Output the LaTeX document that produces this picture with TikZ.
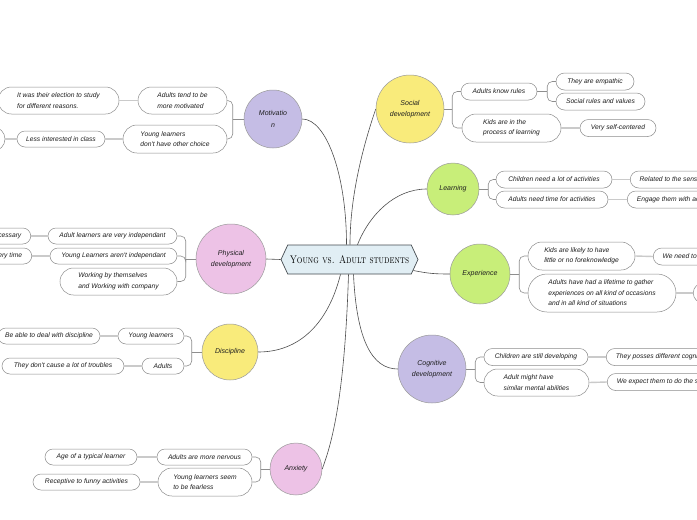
\documentclass[tikz,border=0pt]{standalone}
\usepackage{fontspec}
\newfontfamily\bodyfont{Liberation Sans}
\usetikzlibrary{shapes.misc,shapes.symbols,calc}
\definecolor{lav}{HTML}{C5BDE5}
\definecolor{pnk}{HTML}{EDC2E6}
\definecolor{yel}{HTML}{F9EB7B}
\definecolor{grn}{HTML}{C8EE79}
\definecolor{ctrfill}{HTML}{E1EEF4}
\definecolor{ctrdraw}{HTML}{454B50}
\definecolor{circdraw}{HTML}{9A9A9A}
\definecolor{boxdraw}{HTML}{8C8C8C}
\definecolor{maincol}{HTML}{4E4E4E}
\definecolor{brcol}{HTML}{8E8E8E}
\definecolor{leafcol}{HTML}{CACACA}
\definecolor{txt}{HTML}{1E1E1E}
\begin{document}
\begin{tikzpicture}[x=1pt,y=-1pt,
  topic/.style={circle, draw=circdraw, line width=0.5pt, align=center, inner sep=0pt,
    text=txt, font=\bodyfont\itshape\fontsize{7}{11.5}\selectfont},
  box/.style={rounded rectangle, draw=boxdraw, line width=0.5pt, fill=white, align=left,
    inner sep=0pt, text=txt, font=\bodyfont\itshape\fontsize{6.7}{10.5}\selectfont},
  cutbox/.style={box, inner xsep=9pt},
  mainline/.style={draw=maincol, line width=0.6pt},
  bracket/.style={draw=brcol, line width=0.6pt, rounded corners=5pt},
  leaf/.style={draw=leafcol, line width=1.4pt}]
\clip (0,0) rectangle (697,520);
\fill[white] (0,0) rectangle (697,520);

% central node
\node[signal, signal to=east and west, signal pointer angle=130, draw=ctrdraw, line width=0.7pt,
  fill=ctrfill, minimum width=137pt, minimum height=29pt, inner sep=0pt]
  (C) at (349.5,259.5) {\scalebox{0.8}[1]{\fontsize{11}{12}\selectfont\addfontfeature{FakeBold=1.5}\textsc{Young vs. Adult students}}};

% topics
\node[topic, fill=lav, minimum size=58pt] (M) at (273,119) {Motivatio\\n};
\node[topic, fill=pnk, minimum size=70pt] (P) at (231,259) {Physical\\development};
\node[topic, fill=yel, minimum size=56pt] (D) at (230,352) {Discipline};
\node[topic, fill=pnk, minimum size=52pt] (A) at (296,469) {Anxiety};
\node[topic, fill=yel, minimum size=68pt] (S) at (410,109) {Social\\development};
\node[topic, fill=grn, minimum size=52pt] (L) at (453,189) {Learning};
\node[topic, fill=grn, minimum size=60pt] (E) at (480,274) {Experience};
\node[topic, fill=lav, minimum size=68pt] (K) at (432,369) {Cognitive\\development};

% main connectors
\draw[mainline] (M.east) .. controls +(24,0) and +(0,-70) .. ($(C.north)+(-3,0)$);
\draw[mainline] (S.west) .. controls +(-12,35) and +(0,-50) .. ($(C.north)+(0.5,0)$);
\draw[mainline] (L.west) .. controls +(-32,0) and +(12,-30) .. ($(C.north)+(8,0)$);
\draw[mainline] (C.west) -- (P.east);
\draw[mainline] ($(C.east)+(-5,11)$) .. controls +(15,3) and +(-15,0) .. (E.west);
\draw[mainline] ($(C.south)+(-9,0)$) .. controls +(-12,48) and +(42,0) .. (D.east);
\draw[mainline] ($(C.south)+(-1,0)$) .. controls +(-4,130) and +(8,-22) .. (A.east);
\draw[mainline] ($(C.south)+(4,0)$) .. controls +(3,65) and +(-26,0) .. (K.west);

% Motivation branch
\node[box, minimum width=89pt, minimum height=27pt] (m1) at (182.5,100.5) {Adults tend to be\\more motivated};
\node[box, minimum width=104pt, minimum height=28pt] (m2) at (175,139) {Young learners\\don't have other choice};
\node[box, minimum width=121pt, minimum height=27pt] (m11) at (58.5,100.5) {It was their election to study\\for different reasons.};
\node[box, minimum width=88pt, minimum height=16pt] (m21) at (61,139) {Less interested in class};
\node[box, minimum width=40pt, minimum height=24pt] (m22) at (-15,139) {};
\draw[bracket] (M.west) -- ++(-11,0) coordinate (mj);
\draw[bracket] (mj) |- (m1.east);
\draw[bracket] (mj) |- (m2.east);
\draw[leaf] (m1.west) -- (m11.east);
\draw[leaf] (m2.west) -- (m21.east);
\draw[leaf] (m21.west) -- (m22.east);

% Physical branch
\node[box, minimum width=129pt, minimum height=16pt] (p1) at (112.5,236) {Adult learners are very independant};
\node[box, minimum width=127pt, minimum height=16pt] (p2) at (113.5,256) {Young Learners aren't independant};
\node[box, minimum width=117pt, minimum height=27pt] (p3) at (118.5,281.5) {Working by themselves\\and Working with company};
\node[cutbox, minimum height=16pt, anchor=east] (p11) at (31,236) {necessary};
\node[cutbox, minimum height=16pt, anchor=east] (p21) at (32,256) {every time};
\draw[bracket] (P.west) -- ++(-10,0) coordinate (pj);
\draw[bracket] (pj) |- (p1.east);
\draw[bracket] (pj) |- (p2.east);
\draw[bracket] (pj) |- (p3.east);
\draw[leaf] (p1.west) -- (p11.east);
\draw[leaf] (p2.west) -- (p21.east);

% Discipline branch
\node[box, minimum width=66pt, minimum height=16pt] (d1) at (151,336) {Young learners};
\node[box, minimum width=42pt, minimum height=16pt] (d2) at (163,366) {Adults};
\node[box, minimum width=102pt, minimum height=16pt] (d11) at (49,336) {Be able to deal with discipline};
\node[box, minimum width=122pt, minimum height=16pt] (d21) at (63,366) {They don't cause a lot of troubles};
\draw[bracket] (D.west) -- ++(-10,0) coordinate (dj);
\draw[bracket] (dj) |- (d1.east);
\draw[bracket] (dj) |- (d2.east);
\draw[leaf] (d1.west) -- (d11.east);
\draw[leaf] (d2.west) -- (d21.east);

% Anxiety branch
\node[box, minimum width=95pt, minimum height=16pt] (a1) at (204.5,457) {Adults are more nervous};
\node[box, minimum width=94pt, minimum height=28pt] (a2) at (205,482) {Young learners seem\\to be fearless};
\node[box, minimum width=92pt, minimum height=16pt] (a11) at (91,457) {Age of a typical learner};
\node[box, minimum width=107pt, minimum height=16pt] (a21) at (86.5,482) {Receptive to funny activities};
\draw[bracket] (A.west) -- ++(-9,0) coordinate (aj);
\draw[bracket] (aj) |- (a1.east);
\draw[bracket] (aj) |- (a2.east);
\draw[leaf] (a1.west) -- (a11.east);
\draw[leaf] (a2.west) -- (a21.east);

% Social branch
\node[box, minimum width=76pt, minimum height=17pt] (s1) at (499,91.5) {Adults know rules};
\node[box, minimum width=99pt, minimum height=28pt] (s2) at (511.5,128) {Kids are in the\\process of learning};
\node[box, minimum width=78pt, minimum height=17pt] (s11) at (595,81.5) {They are empathic};
\node[box, minimum width=89pt, minimum height=17pt] (s12) at (600.5,101.5) {Social rules and values};
\node[box, minimum width=76pt, minimum height=17pt] (s21) at (618,128) {Very self-centered};
\draw[bracket] (S.east) -- ++(8,0) coordinate (sj);
\draw[bracket] (sj) |- (s1.west);
\draw[bracket] (sj) |- (s2.west);
\draw[bracket] (s1.east) -- ++(10,0) coordinate (s1j);
\draw[bracket] (s1j) |- (s11.west);
\draw[bracket] (s1j) |- (s12.west);
\draw[leaf] (s2.east) -- (s21.west);

% Learning branch
\node[box, minimum width=116pt, minimum height=17pt] (l1) at (554,179.5) {Children need a lot of activities};
\node[box, minimum width=112pt, minimum height=17pt] (l2) at (552,199.5) {Adults need time for activities};
\node[cutbox, minimum height=17pt, anchor=west] (l11) at (630,179.5) {Related to the senses};
\node[cutbox, minimum height=17pt, anchor=west] (l21) at (627,199.5) {Engage them with activities};
\draw[bracket] (L.east) -- ++(9,0) coordinate (lj);
\draw[bracket] (lj) |- (l1.west);
\draw[bracket] (lj) |- (l2.west);
\draw[leaf] (l1.east) -- (l11.west);
\draw[leaf] (l2.east) -- (l21.west);

% Experience branch
\node[box, minimum width=107pt, minimum height=28pt] (e1) at (581.5,256) {Kids are likely to have\\little or no foreknowledge};
\node[box, minimum width=148pt, minimum height=38pt] (e2) at (602,293) {Adults have had a lifetime to gather\\experiences on all kind of occasions\\and in all kind of situations};
\node[cutbox, minimum height=17pt, anchor=west] (e11) at (653,256.5) {We need to};
\node[box, minimum width=40pt, minimum height=20pt, anchor=west] (e21) at (693,293) {};
\draw[bracket] (E.east) -- ++(9,0) coordinate (ej);
\draw[bracket] (ej) |- (e1.west);
\draw[bracket] (ej) |- (e2.west);
\draw[leaf] (e1.east) -- (e11.west);
\draw[leaf] (e2.east) -- (e21.west);

% Cognitive branch
\node[box, minimum width=104pt, minimum height=17pt] (k1) at (536,357) {Children are still developing};
\node[box, minimum width=105pt, minimum height=27pt] (k2) at (536.5,382.5) {Adult might have\\similar mental abilities};
\node[cutbox, minimum height=17pt, anchor=west] (k11) at (606,357) {They posses different cognitive abilities};
\node[cutbox, minimum height=17pt, anchor=west] (k21) at (607,382) {We expect them to do the same};
\draw[bracket] (K.east) -- ++(9,0) coordinate (kj);
\draw[bracket] (kj) |- (k1.west);
\draw[bracket] (kj) |- (k2.west);
\draw[leaf] (k1.east) -- (k11.west);
\draw[leaf] (k2.east) -- (k21.west);
\end{tikzpicture}
\end{document}
